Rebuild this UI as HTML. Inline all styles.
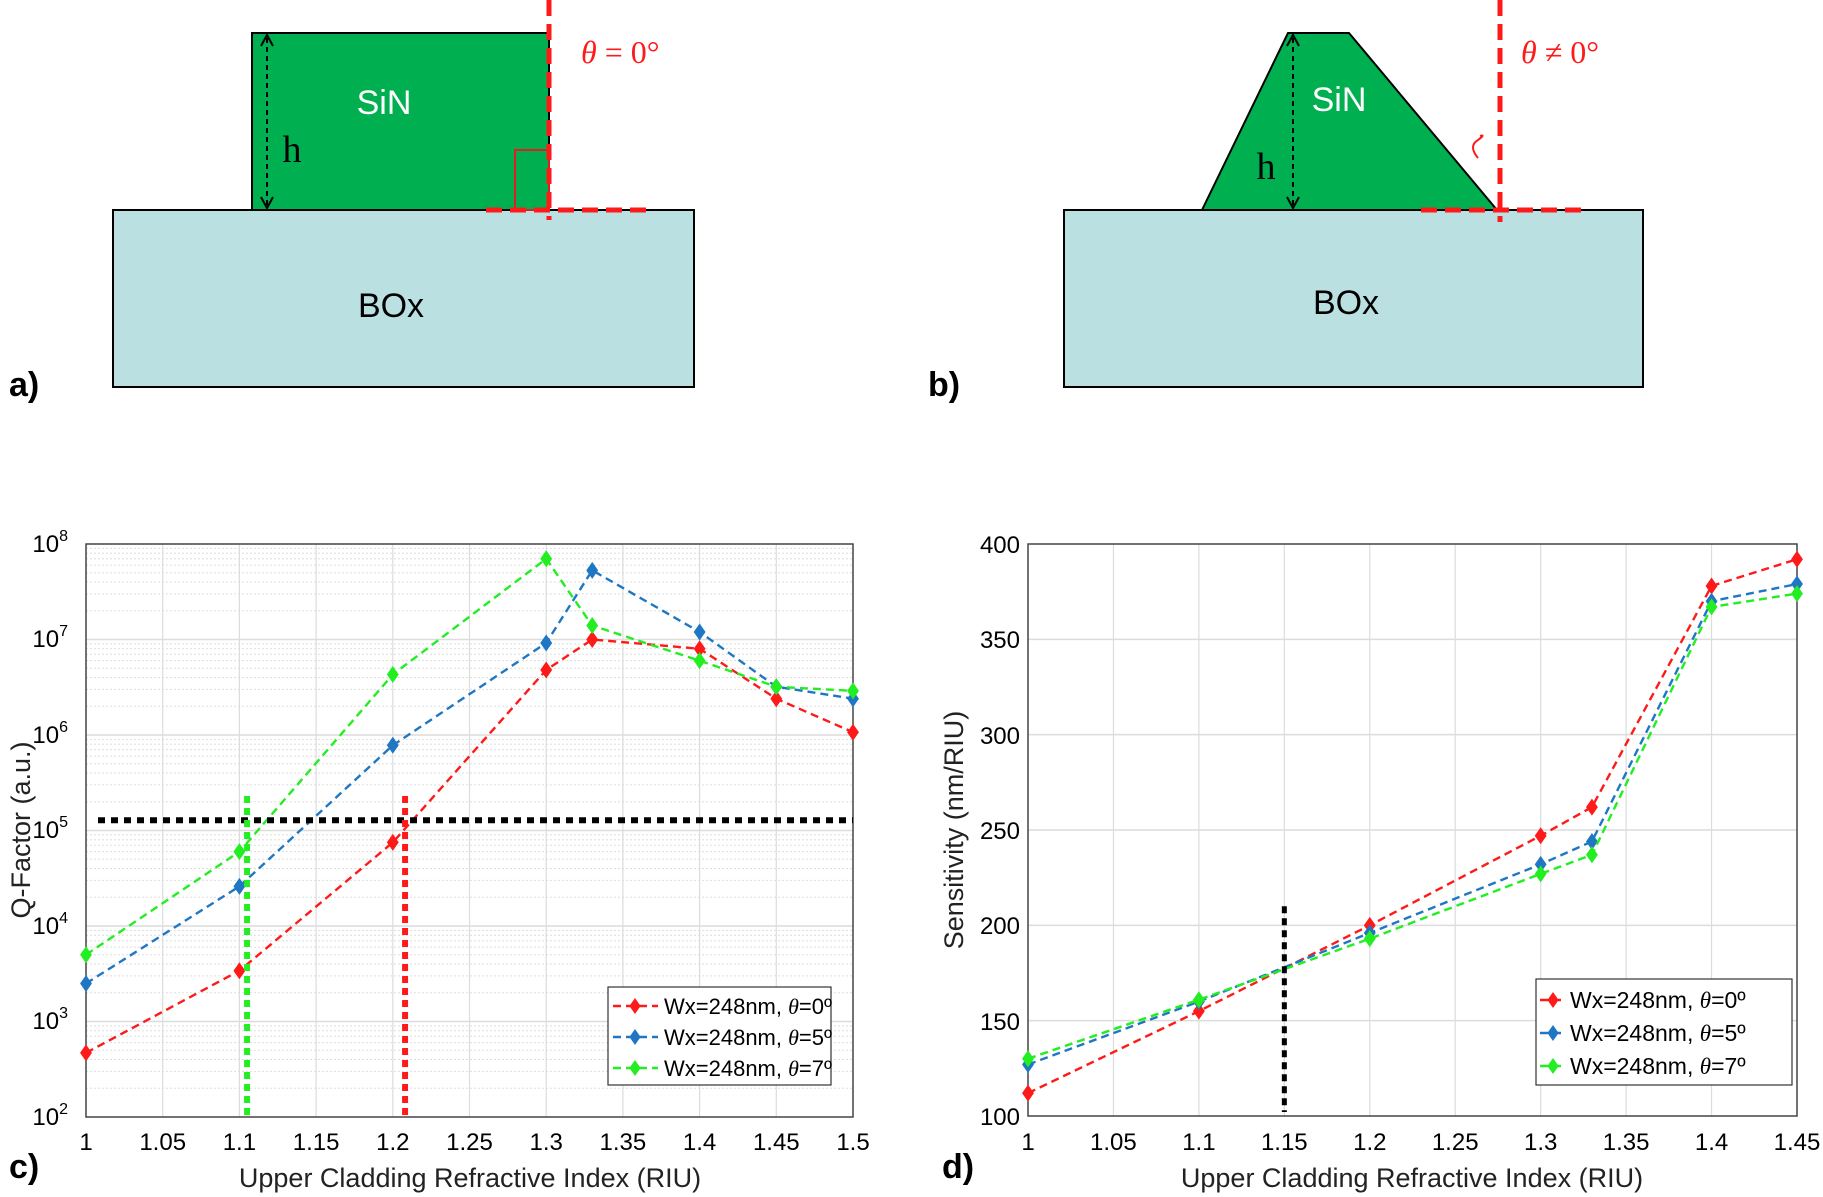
<!DOCTYPE html>
<html><head><meta charset="utf-8"><style>
html,body{margin:0;padding:0;background:#fff;}
svg{display:block;font-family:"Liberation Sans",sans-serif;}
</style></head><body>
<svg id="s" width="1823" height="1197" viewBox="0 0 1823 1197" xmlns="http://www.w3.org/2000/svg">
<!-- diagram a -->
<rect x="113" y="210" width="581" height="177" fill="#bae0e2" stroke="#000" stroke-width="2"/>
<rect x="252" y="33" width="297" height="177" fill="#00b050" stroke="#000" stroke-width="2"/>
<rect x="515" y="150" width="34" height="60" fill="none" stroke="#e02020" stroke-width="2"/>
<line x1="549" y1="0" x2="549" y2="220" stroke="#ff1a1a" stroke-width="5" stroke-dasharray="16,8"/>
<line x1="486" y1="210" x2="648" y2="210" stroke="#ff1a1a" stroke-width="5" stroke-dasharray="16,8"/>
<line x1="267" y1="38" x2="267" y2="205" stroke="#000" stroke-width="2" stroke-dasharray="5,4"/>
<path d="M261,46 L267,35 L273,46 M261,197 L267,208 L273,197" fill="none" stroke="#000" stroke-width="2"/>
<text x="384" y="114" font-size="34" fill="#fff" text-anchor="middle">SiN</text>
<text x="292" y="162" font-size="38" fill="#000" font-family="Liberation Serif,serif" text-anchor="middle">h</text>
<text x="391" y="317" font-size="34" fill="#000" text-anchor="middle">BOx</text>
<text x="581" y="63" font-size="32" fill="#ff1a1a" font-family="Liberation Serif,serif"><tspan font-style="italic">θ</tspan> = 0°</text>
<text x="9" y="396" font-size="34" font-weight="bold">a)</text>
<!-- diagram b -->
<rect x="1064" y="210" width="579" height="177" fill="#bae0e2" stroke="#000" stroke-width="2"/>
<polygon points="1202,210 1288,33 1349,33 1497,210" fill="#00b050" stroke="#000" stroke-width="2"/>
<line x1="1500" y1="0" x2="1500" y2="222" stroke="#ff1a1a" stroke-width="5" stroke-dasharray="16,8"/>
<line x1="1421" y1="210" x2="1583" y2="210" stroke="#ff1a1a" stroke-width="5" stroke-dasharray="16,8"/>
<path d="M1478,158 q-10,-12 0,-18 q8,-6 2,-4" fill="none" stroke="#ff1a1a" stroke-width="2"/>
<line x1="1293" y1="38" x2="1293" y2="205" stroke="#000" stroke-width="2" stroke-dasharray="5,4"/>
<path d="M1287,46 L1293,35 L1299,46 M1287,197 L1293,208 L1299,197" fill="none" stroke="#000" stroke-width="2"/>
<text x="1339" y="111" font-size="34" fill="#fff" text-anchor="middle">SiN</text>
<text x="1266" y="179" font-size="38" fill="#000" font-family="Liberation Serif,serif" text-anchor="middle">h</text>
<text x="1346" y="314" font-size="34" fill="#000" text-anchor="middle">BOx</text>
<text x="1521" y="63" font-size="32" fill="#ff1a1a" font-family="Liberation Serif,serif"><tspan font-style="italic">θ</tspan> ≠ 0°</text>
<text x="928" y="396" font-size="34" font-weight="bold">b)</text>
<!-- chart c -->
<g id="c"></g>
<g font-size="24" text-anchor="middle">
<text x="86" y="1150">1</text>
<text x="162.7" y="1150">1.05</text>
<text x="239.4" y="1150">1.1</text>
<text x="316.1" y="1150">1.15</text>
<text x="392.8" y="1150">1.2</text>
<text x="469.5" y="1150">1.25</text>
<text x="546.2" y="1150">1.3</text>
<text x="622.9" y="1150">1.35</text>
<text x="699.6" y="1150">1.4</text>
<text x="776.3" y="1150">1.45</text>
<text x="853" y="1150">1.5</text>
</g>
<g font-size="24" text-anchor="end">
<text x="68" y="1125">10<tspan font-size="16" dy="-11">2</tspan></text>
<text x="68" y="1029">10<tspan font-size="16" dy="-11">3</tspan></text>
<text x="68" y="934">10<tspan font-size="16" dy="-11">4</tspan></text>
<text x="68" y="838">10<tspan font-size="16" dy="-11">5</tspan></text>
<text x="68" y="743">10<tspan font-size="16" dy="-11">6</tspan></text>
<text x="68" y="647">10<tspan font-size="16" dy="-11">7</tspan></text>
<text x="68" y="552">10<tspan font-size="16" dy="-11">8</tspan></text>
</g>
<text transform="translate(30,830) rotate(-90)" font-size="27" text-anchor="middle" fill="#222">Q-Factor (a.u.)</text>
<text x="470" y="1187" font-size="27" text-anchor="middle" fill="#222">Upper Cladding Refractive Index (RIU)</text>
<text x="9" y="1178" font-size="34" font-weight="bold">c)</text>
<rect x="608" y="987" width="223" height="98" fill="#fff" stroke="#333" stroke-width="1.2"/>
<g font-size="22">
<text x="664" y="1014">Wx=248nm, <tspan font-style="italic" font-family="Liberation Serif,serif">θ</tspan>=0º</text>
<text x="664" y="1045">Wx=248nm, <tspan font-style="italic" font-family="Liberation Serif,serif">θ</tspan>=5º</text>
<text x="664" y="1076">Wx=248nm, <tspan font-style="italic" font-family="Liberation Serif,serif">θ</tspan>=7º</text>
</g>
<!-- chart d -->
<g id="d"></g>
<g font-size="24" text-anchor="middle">
<text x="1028" y="1150">1</text><text x="1113.4" y="1150">1.05</text><text x="1198.9" y="1150">1.1</text>
<text x="1284.3" y="1150">1.15</text><text x="1369.8" y="1150">1.2</text><text x="1455.2" y="1150">1.25</text>
<text x="1540.7" y="1150">1.3</text><text x="1626.1" y="1150">1.35</text><text x="1711.6" y="1150">1.4</text>
<text x="1797" y="1150">1.45</text>
</g>
<g font-size="24" text-anchor="end">
<text x="1020" y="1125">100</text><text x="1020" y="1030">150</text><text x="1020" y="934">200</text>
<text x="1020" y="839">250</text><text x="1020" y="744">300</text><text x="1020" y="648">350</text>
<text x="1020" y="553">400</text>
</g>
<text transform="translate(963,830) rotate(-90)" font-size="27" text-anchor="middle" fill="#222">Sensitivity (nm/RIU)</text>
<text x="1412" y="1187" font-size="27" text-anchor="middle" fill="#222">Upper Cladding Refractive Index (RIU)</text>
<text x="942" y="1178" font-size="34" font-weight="bold">d)</text>
<rect x="1536" y="979" width="256" height="106" fill="#fff" stroke="#333" stroke-width="1.2"/>
<g font-size="23">
<text x="1570" y="1008">Wx=248nm, <tspan font-style="italic" font-family="Liberation Serif,serif">θ</tspan>=0º</text>
<text x="1570" y="1041">Wx=248nm, <tspan font-style="italic" font-family="Liberation Serif,serif">θ</tspan>=5º</text>
<text x="1570" y="1074">Wx=248nm, <tspan font-style="italic" font-family="Liberation Serif,serif">θ</tspan>=7º</text>
</g>
<g id="leg"></g>
</svg>
<script>
var NS="http://www.w3.org/2000/svg";
function el(p,t,a){var e=document.createElementNS(NS,t);for(var k in a)e.setAttribute(k,a[k]);p.appendChild(e);return e;}
var cols=["#ff1a1a","#1f77c4","#22ee22"];
function dia(g,x,y,c,s){el(g,"polygon",{points:(x)+","+(y-s)+" "+(x+s*0.7)+","+y+" "+x+","+(y+s)+" "+(x-s*0.7)+","+y,fill:c});}
var gc=document.getElementById("c");
var L=86,R=853,T=544,B=1117;
function cx(v){return L+(v-1)/0.5*(R-L);} function cy(v){return B-(Math.log10(v)-2)/6*(B-T);}
for(var d=2;d<8;d++)for(var m=2;m<10;m++){var y=cy(m*Math.pow(10,d));el(gc,"line",{x1:L,x2:R,y1:y,y2:y,stroke:"#ddd","stroke-width":1,"stroke-dasharray":"2,2"});}
for(var d=3;d<8;d++){var y=cy(Math.pow(10,d));el(gc,"line",{x1:L,x2:R,y1:y,y2:y,stroke:"#dcdcdc","stroke-width":1.5});}
for(var i=1;i<10;i++){var x=L+i*(R-L)/10;el(gc,"line",{x1:x,x2:x,y1:T,y2:B,stroke:"#dcdcdc","stroke-width":1.2});}
el(gc,"rect",{x:L,y:T,width:R-L,height:B-T,fill:"none",stroke:"#444","stroke-width":1.5});
var xs=[1,1.1,1.2,1.3,1.33,1.4,1.45,1.5];
var dc=[[470,3400,7.5e4,4.8e6,1e7,8e6,2.4e6,1.07e6],[2500,2.6e4,7.8e5,9.2e6,5.3e7,1.2e7,3.2e6,2.4e6],[5000,6e4,4.3e6,7e7,1.4e7,6e6,3.2e6,2.9e6]];
for(var k=0;k<3;k++){var p=xs.map(function(x,i){return cx(x)+","+cy(dc[k][i]);}).join(" ");
el(gc,"polyline",{points:p,fill:"none",stroke:cols[k],"stroke-width":2.4,"stroke-dasharray":"8,5"});
xs.forEach(function(x,i){dia(gc,cx(x),cy(dc[k][i]),cols[k],8.5);});}
el(gc,"line",{x1:L+12,x2:R,y1:cy(1.28e5),y2:cy(1.28e5),stroke:"#000","stroke-width":6,"stroke-dasharray":"7,6"});
el(gc,"line",{x1:cx(1.105),x2:cx(1.105),y1:cy(2.3e5),y2:B,stroke:"#22ee22","stroke-width":6,"stroke-dasharray":"7,5"});
el(gc,"line",{x1:cx(1.208),x2:cx(1.208),y1:cy(2.3e5),y2:B,stroke:"#ff1a1a","stroke-width":6,"stroke-dasharray":"7,5"});
var gd=document.getElementById("d");
var L2=1028,R2=1797,T2=544,B2=1116;
function dx(v){return L2+(v-1)/0.45*(R2-L2);} function dy(v){return B2-(v-100)/300*(B2-T2);}
for(var v=150;v<400;v+=50){el(gd,"line",{x1:L2,x2:R2,y1:dy(v),y2:dy(v),stroke:"#dcdcdc","stroke-width":1.5});}
for(var i=1;i<9;i++){var x=dx(1+i*0.05);el(gd,"line",{x1:x,x2:x,y1:T2,y2:B2,stroke:"#dcdcdc","stroke-width":1.2});}
el(gd,"rect",{x:L2,y:T2,width:R2-L2,height:B2-T2,fill:"none",stroke:"#444","stroke-width":1.5});
var xs2=[1,1.1,1.2,1.3,1.33,1.4,1.45];
var dd=[[112,155,200,247,262,378,392],[127,160,196,232,244,370,379],[130,161,193,227,237,367,374]];
for(var k=0;k<3;k++){var p=xs2.map(function(x,i){return dx(x)+","+dy(dd[k][i]);}).join(" ");
el(gd,"polyline",{points:p,fill:"none",stroke:cols[k],"stroke-width":2.4,"stroke-dasharray":"8,5"});
xs2.forEach(function(x,i){dia(gd,dx(x),dy(dd[k][i]),cols[k],8.5);});}
el(gd,"line",{x1:dx(1.15),x2:dx(1.15),y1:dy(210),y2:B2-4,stroke:"#000","stroke-width":5,"stroke-dasharray":"7,5"});
var gl=document.getElementById("leg");
[1006,1037,1068].forEach(function(y,k){el(gl,"line",{x1:613,x2:658,y1:y,y2:y,stroke:cols[k],"stroke-width":2.4,"stroke-dasharray":"8,5"});dia(gl,635,y,cols[k],8);});
[1000,1033,1066].forEach(function(y,k){el(gl,"line",{x1:1540,x2:1565,y1:y,y2:y,stroke:cols[k],"stroke-width":2.4,"stroke-dasharray":"8,5"});dia(gl,1553,y,cols[k],8);});
</script>
</body></html>
